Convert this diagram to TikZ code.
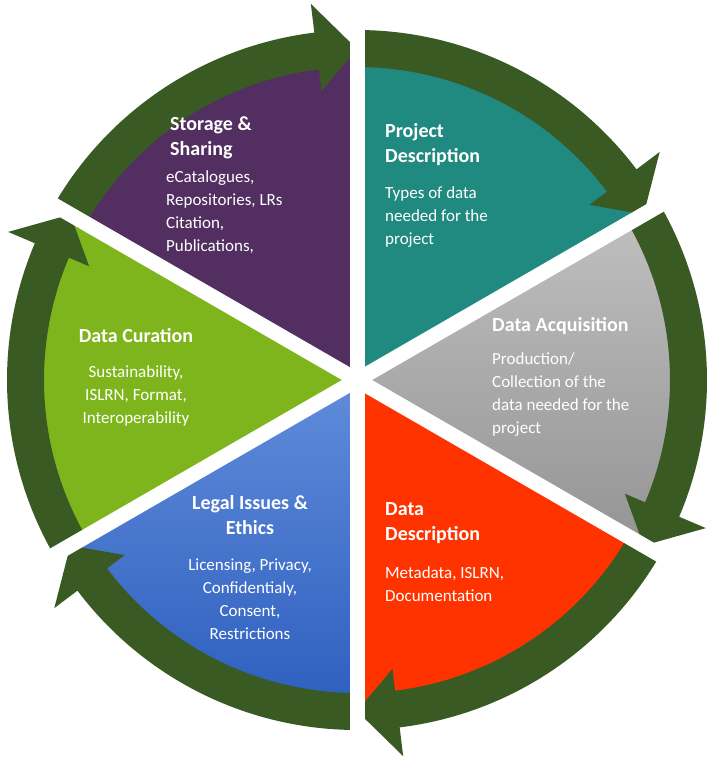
\documentclass[tikz,border=0pt]{standalone}
\usepackage{fontspec}
\setmainfont{Carlito}
\begin{document}
\begin{tikzpicture}[x=1pt,y=1pt,
  ttl/.style={text=white,font=\bfseries\fontsize{20}{27}\selectfont,inner sep=0pt,align=left},
  bdy/.style={text=white,font=\fontsize{17}{23}\selectfont,inner sep=0pt,align=left},
  arrowc/.style={fill=arrowgreen}]
\definecolor{arrowgreen}{HTML}{3A5A24}
\definecolor{cpurple}{HTML}{522F60}
\definecolor{cteal}{HTML}{218A80}
\definecolor{cred}{HTML}{FF3300}
\definecolor{cgreen}{HTML}{7FB51C}
\useasboundingbox (-357,-377) rectangle (358,380);
\coordinate (C) at (0,0);
% sectors
\fill[cpurple] (C) -- (90:335) arc (90:150:335) -- cycle;
\fill[cteal] (C) -- (30:335) arc (30:90:335) -- cycle;
\shade[top color=black!25,bottom color=black!42] (C) -- (-30:335) arc (-30:30:335) -- cycle;
\fill[cred] (C) -- (-90:335) arc (-90:-30:335) -- cycle;
\shade[top color={rgb,255:red,96;green,140;blue,218},bottom color={rgb,255:red,44;green,94;blue,190}] (C) -- (-150:335) arc (-150:-90:335) -- cycle;
\fill[cgreen] (C) -- (150:335) arc (150:210:335) -- cycle;
% arrows
\foreach \a in {150,90,30,-30,-90,-150}{
  \pgfmathsetmacro{\b}{\a-53}
  \pgfmathsetmacro{\t}{\a-60}
  \fill[arrowc] (\a:313) arc (\a:\b:313) -- (\b:291) -- (\t:331) -- (\b:379) -- (\b:350) arc (\b:\a:350) -- cycle;
}
% gaps
\foreach \a in {90,30,-30,-90,-150,150}{
  \draw[white,line width=15pt] (C) -- (\a:400);
}
% texts
\node[ttl,anchor=north west] (pt) at (-187,264) {Storage \&\\[-2pt]Sharing};
\node[bdy,anchor=north west] (pb) at (-191,210) {eCatalogues,\\Repositories, LRs\\Citation,\\Publications,};
\node[ttl,anchor=north west] (tt) at (28,257) {Project\\[-2pt]Description};
\node[bdy,anchor=north west] (tb) at (28,194) {Types of data\\needed for the\\project};
\node[ttl,anchor=north west] (gt) at (135,63) {Data Acquisition};
\node[bdy,anchor=north west] (gb) at (135,28) {Production/\\Collection of the\\data needed for the\\project};
\node[ttl,anchor=north west] (rt) at (28,-122) {Data\\[-2pt]Description};
\node[bdy,anchor=north west] (rb) at (28,-186) {Metadata, ISLRN,\\Documentation};
\node[ttl,anchor=north,align=center] (bt) at (-107,-115) {Legal Issues \&\\[-2pt]Ethics};
\node[bdy,anchor=north,align=center] (bb) at (-107,-179) {Licensing, Privacy,\\Confidentialy,\\Consent,\\Restrictions};
\node[ttl,anchor=north] (ct) at (-221,52) {Data Curation};
\node[bdy,anchor=north,align=center] (cb) at (-221,15) {Sustainability,\\ISLRN, Format,\\Interoperability};
\end{tikzpicture}
\end{document}
